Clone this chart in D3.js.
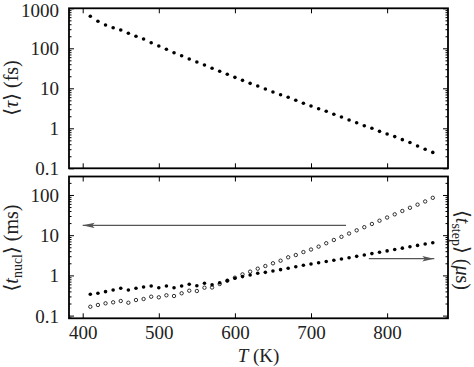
<!DOCTYPE html>
<html><head><meta charset="utf-8">
<script src="https://cdn.jsdelivr.net/npm/d3@7"></script>
<style>
html,body{margin:0;padding:0;background:#fff;}
svg{display:block;}
text{font-family:"Liberation Serif","DejaVu Serif",serif;}
</style></head>
<body>
<script>
// ---- data ----
const temps = [410,420,430,440,450,460,470,480,490,500,
               510,520,530,540,550,560,570,580,590,600,
               610,620,630,640,650,660,670,680,690,700,
               710,720,730,740,750,760,770,780,790,800,
               810,820,830,840,850,860];
const tau = [631,473,383,327,287,237,200,171,138,114,
             94.4,77.6,65.3,54.0,45.4,38.2,31.6,26.6,22.4,18.8,
             15.8,13.3,11.4,9.6,8.1,6.92,5.96,5.01,4.22,3.61,
             3.09,2.66,2.24,1.92,1.61,1.38,1.16,1.0,0.84,0.72,
             0.62,0.52,0.44,0.36,0.30,0.25];
const tStep = [0.339,0.359,0.394,0.434,0.478,0.434,0.478,0.514,0.544,0.494,
               0.544,0.494,0.544,0.601,0.555,0.635,0.587,0.659,0.74,0.85,
               0.933,1.02,1.13,1.19,1.29,1.39,1.50,1.64,1.78,1.92,
               2.07,2.22,2.38,2.56,2.75,2.98,3.22,3.48,3.77,4.07,
               4.41,4.76,5.15,5.57,6.03,6.5];
const tNucl = [0.166,0.184,0.202,0.214,0.231,0.209,0.244,0.259,0.295,0.285,
               0.320,0.307,0.359,0.416,0.409,0.494,0.50,0.611,0.738,0.877,
               1.06,1.24,1.47,1.71,2.0,2.32,2.82,3.21,3.8,4.4,
               5.2,6.3,7.6,9.1,11.0,13.2,15.8,19.0,22.9,27.5,
               33,40,48,57.5,69,85];
const xTicks = [400,500,600,700,800];
const topYTicks = [0.1,1,10,100,1000];
const botYTicks = [0.1,1,10,100];

// ---- layout ----
const W = 474, H = 367;
const svg = d3.select("body").append("svg").attr("width",W).attr("height",H);
const L = 69, R = 448;
const x = d3.scaleLinear().domain([382,880]).range([L,R]);
const yTop = d3.scaleLog().domain([0.1,1000]).range([168.3,8.3]);
const yBot = d3.scaleLog().domain([0.0857,288]).range([318.3,176.5]);

function minors(scale){
  const [a,b] = scale.domain();
  const out = [];
  for (let e = Math.floor(Math.log10(a)); e <= Math.ceil(Math.log10(b)); e++){
    for (let m = 2; m <= 9; m++){
      const v = m*Math.pow(10,e);
      if (v > a && v < b) out.push(v);
    }
  }
  return out;
}
const fmt = d => (d < 1 ? d.toString() : d3.format("d")(d));

function panel(y, yTicksMaj, showXLabels){
  const [y0,y1] = y.range(); // bottom, top
  const g = svg.append("g");
  const la = g.append("g").attr("transform",`translate(${L},0)`)
    .call(d3.axisLeft(y).tickValues(yTicksMaj).tickFormat(fmt).tickSizeInner(-5).tickSizeOuter(0).tickPadding(10));
  g.append("g").attr("transform",`translate(${L},0)`)
    .call(d3.axisLeft(y).tickValues(minors(y)).tickFormat("").tickSizeInner(-2.5).tickSizeOuter(0));
  g.append("g").attr("transform",`translate(${R},0)`)
    .call(d3.axisRight(y).tickValues(yTicksMaj).tickFormat("").tickSizeInner(-5).tickSizeOuter(0));
  g.append("g").attr("transform",`translate(${R},0)`)
    .call(d3.axisRight(y).tickValues(minors(y)).tickFormat("").tickSizeInner(-2.5).tickSizeOuter(0));
  g.append("g").attr("transform",`translate(0,${y1})`)
    .call(d3.axisTop(x).tickValues(xTicks).tickFormat("").tickSizeInner(-5).tickSizeOuter(0));
  const ba = g.append("g").attr("transform",`translate(0,${y0})`)
    .call(d3.axisBottom(x).tickValues(xTicks).tickFormat(showXLabels ? d3.format("d") : "").tickSizeInner(-5).tickSizeOuter(0).tickPadding(7));
  g.selectAll(".domain").remove();
  g.selectAll(".tick line").attr("stroke","#000").attr("stroke-width",1);
  g.selectAll(".tick text").attr("font-size",19).attr("fill","#222")
    .attr("font-family","'Liberation Serif','DejaVu Serif',serif");
  la.selectAll(".tick text").attr("dy", d => d === 1000 ? "0.42em" : "0.34em");
  if (showXLabels) ba.selectAll(".tick text").attr("dy","0.72em");
  g.append("rect").attr("x",L).attr("y",y1).attr("width",R-L).attr("height",y0-y1)
    .attr("fill","none").attr("stroke","#000").attr("stroke-width",1.8);
  return g;
}

panel(yTop, topYTicks, false);
panel(yBot, botYTicks, true);

// ---- data marks ----
svg.append("g").selectAll("circle").data(temps).join("circle")
  .attr("cx",(d)=>x(d)).attr("cy",(d,i)=>yTop(tau[i])).attr("r",1.8).attr("fill","#000");
svg.append("g").selectAll("circle").data(temps).join("circle")
  .attr("cx",(d)=>x(d)).attr("cy",(d,i)=>yBot(tNucl[i])).attr("r",1.7)
  .attr("fill","none").attr("stroke","#000").attr("stroke-width",0.8);
svg.append("g").selectAll("circle").data(temps).join("circle")
  .attr("cx",(d)=>x(d)).attr("cy",(d,i)=>yBot(tStep[i])).attr("r",1.8).attr("fill","#000");

// ---- arrows ----
const defs = svg.append("defs");
defs.append("marker").attr("id","ah").attr("viewBox","0 0 12 6").attr("refX",12).attr("refY",3)
  .attr("markerWidth",12).attr("markerHeight",6).attr("markerUnits","userSpaceOnUse").attr("orient","auto")
  .append("path").attr("d","M0,0.3 L12,3 L0,5.7 L2.5,3 Z").attr("fill","#555");
svg.append("line").attr("x1",x(746)).attr("x2",x(400)).attr("y1",yBot(17.5)).attr("y2",yBot(17.5))
  .attr("stroke","#555").attr("stroke-width",1.2).attr("marker-end","url(#ah)");
svg.append("line").attr("x1",x(776)).attr("x2",x(862)).attr("y1",yBot(2.6)).attr("y2",yBot(2.6))
  .attr("stroke","#555").attr("stroke-width",1.2).attr("marker-end","url(#ah)");

// ---- titles ----
const tf = 20;
const t1 = svg.append("text").attr("transform","translate(18,88) rotate(-90)")
  .attr("text-anchor","middle").attr("font-size",tf).attr("fill","#222");
t1.append("tspan").text("\u27E8");
t1.append("tspan").attr("font-style","italic").text("\u03C4");
t1.append("tspan").text("\u27E9 (fs)");

const t2 = svg.append("text").attr("transform","translate(18,248) rotate(-90)")
  .attr("text-anchor","middle").attr("font-size",tf).attr("fill","#222");
t2.append("tspan").text("\u27E8");
t2.append("tspan").attr("font-style","italic").text("t");
t2.append("tspan").attr("font-size",14).attr("dy",4).text("nucl");
t2.append("tspan").attr("dy",-4).text("\u27E9 (ms)");

const t3 = svg.append("text").attr("transform","translate(456,250) rotate(90)")
  .attr("text-anchor","middle").attr("font-size",tf).attr("fill","#222");
t3.append("tspan").text("\u27E8");
t3.append("tspan").attr("font-style","italic").text("t");
t3.append("tspan").attr("font-size",14).attr("dy",4).text("step");
t3.append("tspan").attr("dy",-4).text("\u27E9 (");
t3.append("tspan").attr("font-style","italic").text("\u03BC");
t3.append("tspan").text("s)");

const t4 = svg.append("text").attr("x",(L+R)/2).attr("y",362)
  .attr("text-anchor","middle").attr("font-size",19).attr("fill","#222");
t4.append("tspan").attr("font-style","italic").text("T");
t4.append("tspan").text(" (K)");
</script>
</body></html>
